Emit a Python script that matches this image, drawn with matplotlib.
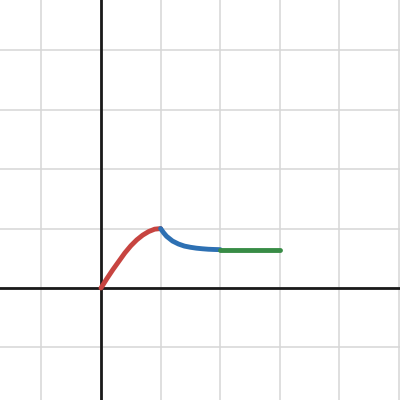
import matplotlib
matplotlib.use("Agg")
import matplotlib.pyplot as plt

# piecewise curve, values
red_x = [0, 0.1, 0.2, 0.3, 0.4, 0.5, 0.6, 0.7, 0.8, 0.9, 1.0]
red_y = [0, 0.16, 0.31, 0.45, 0.59, 0.71, 0.81, 0.89, 0.95, 0.99, 1.0]
blue_x = [1.0, 1.05, 1.1, 1.2, 1.3, 1.4, 1.5, 1.6, 1.7, 1.8, 1.9, 2.0]
blue_y = [1.0, 0.93, 0.87, 0.79, 0.74, 0.705, 0.685, 0.67, 0.66, 0.652, 0.648, 0.645]
green_x = [2.0, 3.0]
green_y = [0.645, 0.645]

fig = plt.figure(figsize=(4, 4), dpi=100)
ax = fig.add_axes([0, 0, 1, 1])
ax.set_xlim(-1.695, 5.017)
ax.set_ylim(-1.886, 4.848)

for gx in range(-1, 6):
    ax.axvline(gx, color="#d6d6d6", lw=1.1, zorder=1)
for gy in range(-1, 5):
    ax.axhline(gy, color="#d6d6d6", lw=1.1, zorder=1)
ax.axvline(0, color="#1a1a1a", lw=2.0, zorder=2)
ax.axhline(0, color="#1a1a1a", lw=2.0, zorder=2)

ax.plot(red_x, red_y, color="#c74440", lw=3.5, solid_capstyle="round", zorder=3)
ax.plot(blue_x, blue_y, color="#2d70b3", lw=3.5, solid_capstyle="round", zorder=3)
ax.plot(green_x, green_y, color="#388c46", lw=3.5, solid_capstyle="round", zorder=3)

ax.set_xticks([])
ax.set_yticks([])
for s in ax.spines.values():
    s.set_visible(False)

fig.savefig("out.png", dpi=100)
